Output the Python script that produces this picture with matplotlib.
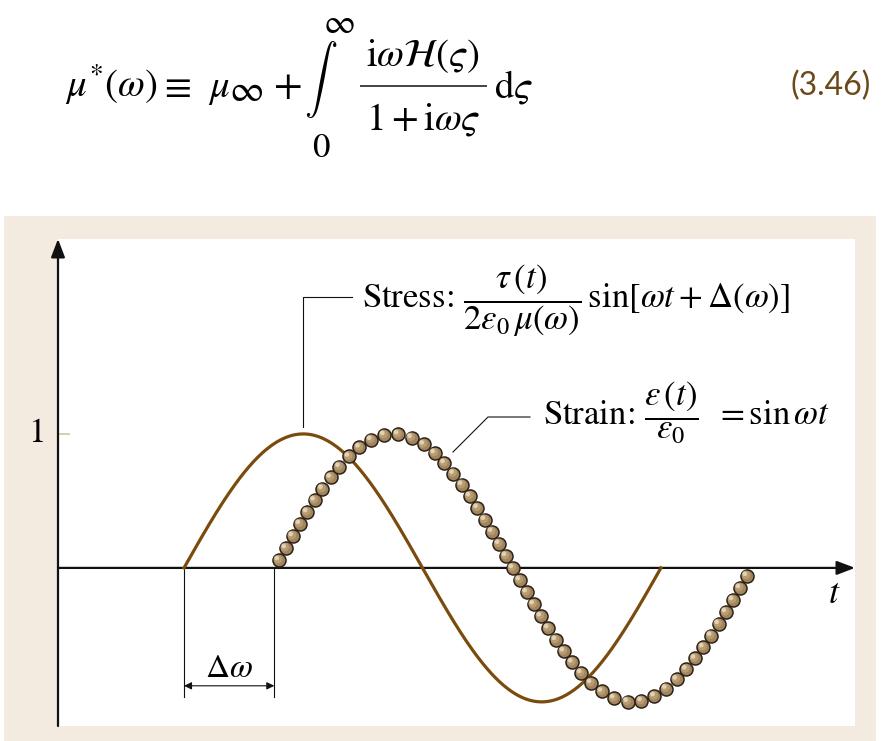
import numpy as np
import matplotlib
matplotlib.use("Agg")
import matplotlib.pyplot as plt
from matplotlib.patches import Rectangle, ArrowStyle
from matplotlib.transforms import offset_copy

plt.rcParams['font.family'] = 'STIXGeneral'
plt.rcParams['mathtext.fontset'] = 'stix'

# --- chart values -------------------------------------------------------
stress_amp = 1.0          # normalised stress amplitude
strain_amp = 1.0          # normalised strain amplitude
stress_start = 0.0        # phase where the stress curve starts (rad)
phase_lag = 1.19          # Delta(omega): strain lags stress (rad)
cycle = 2 * np.pi         # one period is drawn
n_strain_dots = 53        # beads along the strain curve
x_range = (-1.66, 8.84)
y_range = (-1.18, 2.455)
tick_vals = [1.0]
tick_labels = ['1']

W, H = 883, 741
fig = plt.figure(figsize=(W / 100, H / 100), dpi=100)
fig.patch.set_facecolor('white')

# beige panel behind the plot
panel = Rectangle((4 / W, 0), 872 / W, 525 / H, transform=fig.transFigure,
                  facecolor='#f3eae0', edgecolor='none', zorder=-1)
fig.patches.append(panel)

ax = fig.add_axes([58 / W, 15 / H, 797 / W, 487 / H], zorder=0)
ax.set_facecolor('white')
ax.set_xlim(*x_range)
ax.set_ylim(*y_range)
for s in ax.spines.values():
    s.set_visible(False)
ax.set_xticks([])
ax.set_yticks([])

# axes with arrow heads
big_head = ArrowStyle('-|>', head_length=1.1, head_width=0.42)
ax.annotate('', xy=(x_range[1], 0), xytext=(x_range[0], 0),
            arrowprops=dict(arrowstyle=big_head, mutation_scale=10, lw=1.6,
                            color='#111111', shrinkA=0, shrinkB=0),
            annotation_clip=False)
ax.annotate('', xy=(x_range[0], y_range[1]), xytext=(x_range[0], y_range[0]),
            arrowprops=dict(arrowstyle=big_head, mutation_scale=10, lw=1.6,
                            color='#111111', shrinkA=0, shrinkB=0),
            annotation_clip=False)

# y tick "1"
for v, lab in zip(tick_vals, tick_labels):
    ax.plot([x_range[0], x_range[0] + 0.16], [v, v], color='#d8ccb8', lw=1.4,
            solid_capstyle='butt', clip_on=False)
    ax.text(x_range[0] - 0.28, v, lab, fontsize=25, ha='center', va='center')

# stress curve
t_stress = np.linspace(stress_start, stress_start + cycle, 500)
ax.plot(t_stress, stress_amp * np.sin(t_stress - stress_start),
        color='#7a4b0c', lw=2.3, zorder=3)

# strain beads, evenly spaced along the curve on screen
t_dense = np.linspace(stress_start + phase_lag, stress_start + phase_lag + cycle, 4000)
y_dense = strain_amp * np.sin(t_dense - stress_start - phase_lag)
pts = ax.transData.transform(np.column_stack([t_dense, y_dense]))
seg = np.hypot(np.diff(pts[:, 0]), np.diff(pts[:, 1]))
arc = np.concatenate([[0], np.cumsum(seg)])
edge_gap = 9.0
s_pos = np.linspace(edge_gap, arc[-1] - edge_gap, n_strain_dots)
t_dots = np.interp(s_pos, arc, t_dense)
y_dots = strain_amp * np.sin(t_dots - stress_start - phase_lag)

ax.scatter(t_dots, y_dots, s=88, facecolor='#a3855d', edgecolor='#2b2117',
           linewidths=1.1, zorder=4)
mid = offset_copy(ax.transData, fig=fig, x=-0.6, y=0.6, units='points')
ax.scatter(t_dots, y_dots, s=38, facecolor='#b89c74', edgecolor='none',
           zorder=5, transform=mid)
hi = offset_copy(ax.transData, fig=fig, x=-1.4, y=1.4, units='points')
ax.scatter(t_dots, y_dots, s=11, facecolor='#e2d2b4', edgecolor='none',
           zorder=6, transform=hi)

# Delta omega dimension
dim_bottom = -0.965
for xv in (stress_start, stress_start + phase_lag):
    ax.plot([xv, xv], [0, dim_bottom], color='#111111', lw=0.8, zorder=2)
small_head = ArrowStyle('<|-|>', head_length=0.45, head_width=0.22)
ax.annotate('', xy=(stress_start + phase_lag, -0.88), xytext=(stress_start, -0.88),
            arrowprops=dict(arrowstyle=small_head, mutation_scale=10, lw=0.8,
                            color='#111111', shrinkA=0, shrinkB=0))
ax.text(stress_start + phase_lag / 2, -0.755, r'$\Delta\omega$', fontsize=24,
        ha='center', va='center')

# overlay in pixel units for labels and leader lines
ov = fig.add_axes([0, 0, 1, 1], zorder=2)
ov.set_xlim(0, W)
ov.set_ylim(H, 0)
ov.axis('off')
ov.patch.set_alpha(0)

ov.text(834, 594, r'$t$', fontsize=26, ha='center', va='center')

# stress label + leader
ov.plot([303, 303, 352], [427, 297, 297], color='#111111', lw=0.8)
ov.text(362, 308, r'Stress: $\dfrac{\tau\,(t)}{2\varepsilon_0\,\mu(\omega)}\,\sin[\omega t+\Delta(\omega)]$',
        fontsize=25, ha='left', va='baseline')

# strain label + leader
ov.plot([453, 488, 530], [452, 417, 417], color='#111111', lw=0.8)
ov.text(543, 425, r'Strain: $\dfrac{\varepsilon\,(t)}{\varepsilon_0}\;\;=\sin\omega t$',
        fontsize=25, ha='left', va='baseline')

# equation at the top, piece by piece
eq_base = 97
eq_size = 28
ov.text(65, eq_base, r'$\mu^{*}(\omega)$', fontsize=eq_size, ha='left', va='baseline')
ov.text(175, eq_base, r'$\equiv$', fontsize=eq_size, ha='center', va='baseline')
ov.text(208, eq_base, r'$\mu$', fontsize=eq_size, ha='left', va='baseline')
ov.text(246, 92, r'$\infty$', fontsize=27, ha='center', va='center')
ov.text(287, eq_base, r'$+$', fontsize=30, ha='center', va='baseline')
ov.text(321, 80, r'$\int$', fontsize=24, ha='center', va='center',
        math_fontfamily='cm')
ov.text(339, 25, r'$\infty$', fontsize=25, ha='center', va='center')
ov.text(321, 149, r'$0$', fontsize=25, ha='center', va='center')
ov.text(423, 56, r'$\mathrm{i}\omega\mathcal{H}(\varsigma)$', fontsize=eq_size,
        ha='center', va='center')
ov.plot([360, 487], [86, 86], color='#111111', lw=1.1, solid_capstyle='butt')
ov.text(423, 119, r'$1+\mathrm{i}\omega\varsigma$', fontsize=eq_size,
        ha='center', va='center')
ov.text(494, eq_base, r'$\mathrm{d}\varsigma$', fontsize=eq_size, ha='left', va='baseline')
ov.text(790, 86, '(3.46)', fontsize=23, family='Lato', color='#6b4a1a',
        ha='left', va='center')

fig.savefig('out.png', dpi=100)
